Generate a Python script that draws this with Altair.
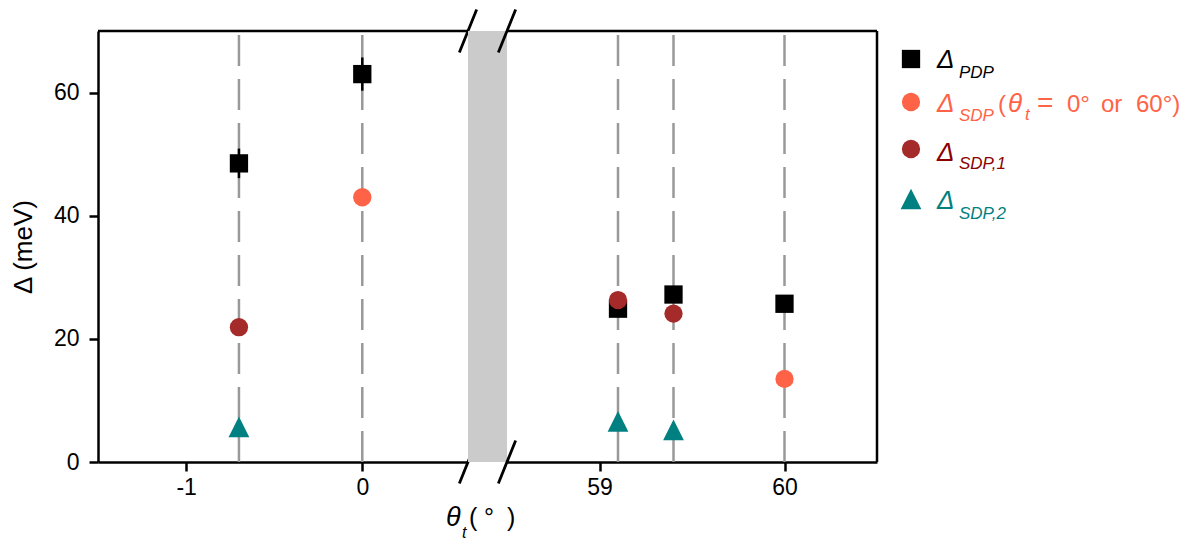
import altair as alt
import pandas as pd

FONT = "Liberation Sans"

# ---------------- data ----------------
guide_theta = [-0.7, 0.0, 59.1, 59.4, 60.0]          # dashed guide lines

pdp_theta = [-0.7, 0.0, 59.1, 59.4, 60.0]
pdp_val = [48.5, 63.0, 24.9, 27.2, 25.7]
pdp_err = [2.4, 2.7, 0.0, 0.0, 0.0]

sdp_theta = [0.0, 60.0]
sdp_val = [43.0, 13.5]

sdp1_theta = [-0.7, 59.1, 59.4]
sdp1_val = [21.9, 26.3, 24.1]

sdp2_theta = [-0.7, 59.1, 59.4]
sdp2_val = [5.7, 6.6, 5.2]

left_ticks = [-1, 0]
right_ticks = [59, 60]
y_ticks = [0, 20, 40, 60]

left_domain = [-1.5, 0.6]
right_domain = [58.5, 60.5]
y_domain = [0, 70]

C_PDP = "#000000"
C_SDP = "#ff6347"
C_SDP1 = "#a52a2a"
C_SDP1_TXT = "#8b0000"
C_SDP2 = "#008080"
C_GUIDE = "#999999"

W_PANEL = 370
W_GAP = 39
W_LEG = 303
H = 431

TRI = "M0,-1L-1,1L1,1Z"


def df_in(xs, ys, domain, extra=None):
    rows = []
    for i, (t, v) in enumerate(zip(xs, ys)):
        if domain[0] <= t <= domain[1]:
            r = {"theta": t, "val": v}
            if extra is not None:
                r["lo"] = v - extra[i]
                r["hi"] = v + extra[i]
                r["err"] = extra[i]
            rows.append(r)
    return pd.DataFrame(rows)


def panel(domain, ticks, left_side):
    xaxis = alt.Axis(values=ticks, labelExpr="'' + datum.value", title=None,
                     grid=False, labelPadding=5)
    if left_side:
        yaxis = alt.Axis(values=y_ticks, title="Δ (meV)", grid=False,
                         labelPadding=10, titlePadding=17)
    else:
        yaxis = None
    xs = alt.Scale(domain=domain, nice=False, zero=False)
    ys = alt.Scale(domain=y_domain, nice=False, zero=False)

    def X(f):
        return alt.X(f, type="quantitative", scale=xs, axis=xaxis)

    def Y(f):
        return alt.Y(f, type="quantitative", scale=ys, axis=yaxis)

    guides = pd.DataFrame({"theta": [t for t in guide_theta if domain[0] <= t <= domain[1]]})
    g = alt.Chart(guides).mark_rule(color=C_GUIDE, strokeWidth=2.5, strokeDash=[31, 13]).encode(
        x=X("theta"), y=Y("y0"), y2="y1"
    ).transform_calculate(y0=str(y_domain[0]), y1=str(y_domain[1]))

    pdp = df_in(pdp_theta, pdp_val, domain, pdp_err)
    eb = alt.Chart(pdp[pdp["err"] > 0]).mark_rule(color=C_PDP, strokeWidth=2.5).encode(
        x=X("theta"), y=Y("lo"), y2="hi")
    sq = alt.Chart(pdp).mark_point(shape="square", filled=True, size=335, opacity=1,
                                   color=C_PDP).encode(x=X("theta"), y=Y("val"))
    c0 = alt.Chart(df_in(sdp_theta, sdp_val, domain)).mark_point(
        shape="circle", filled=True, size=335, opacity=1, color=C_SDP).encode(
        x=X("theta"), y=Y("val"))
    c1 = alt.Chart(df_in(sdp1_theta, sdp1_val, domain)).mark_point(
        shape="circle", filled=True, size=335, opacity=1, color=C_SDP1).encode(
        x=X("theta"), y=Y("val"))
    tr = alt.Chart(df_in(sdp2_theta, sdp2_val, domain)).mark_point(
        shape=TRI, filled=True, size=430, opacity=1, color=C_SDP2).encode(
        x=X("theta"), y=Y("val"))

    layers = [g, eb, sq, c0, c1, tr]

    # top frame line
    top = alt.Chart(alt.Data(values=[{}])).mark_rule(color="black", strokeWidth=2.5).encode(
        y=alt.datum(y_domain[1], scale=ys, axis=yaxis))
    layers.append(top)

    # axis-break slashes
    edge = domain[1] if left_side else domain[0]
    dx = 0.048 * (domain[1] - domain[0]) / 2.05
    dy = 3.5
    brk = pd.DataFrame([
        {"x": edge - dx, "x2": edge + dx, "y": y0 - dy, "y2": y0 + dy}
        for y0 in y_domain
    ])
    sl = alt.Chart(brk).mark_rule(color="black", strokeWidth=2.8, clip=False).encode(
        x=X("x"), x2="x2", y=Y("y"), y2="y2")
    layers.append(sl)

    if not left_side:
        rb = alt.Chart(alt.Data(values=[{}])).mark_rule(color="black", strokeWidth=2.5).encode(
            x=alt.datum(domain[1], scale=xs, axis=xaxis))
        layers.append(rb)

    return alt.layer(*layers).properties(width=W_PANEL, height=H)


def txt(s, x, y, size, color="black", italic=False):
    return alt.Chart(alt.Data(values=[{}])).mark_text(
        text=s, align="left", baseline="alphabetic", font=FONT, fontSize=size,
        fontStyle="italic" if italic else "normal", color=color
    ).encode(x=alt.value(x), y=alt.value(y))


def sym(shape, x, y, size, color):
    return alt.Chart(alt.Data(values=[{}])).mark_point(
        shape=shape, filled=True, size=size, opacity=1, color=color
    ).encode(x=alt.value(x), y=alt.value(y))


left = panel(left_domain, left_ticks, True)
right = panel(right_domain, right_ticks, False)

gap = alt.layer(
    alt.Chart(alt.Data(values=[{}])).mark_rect(color="#cbcbcb").encode(
        x=alt.value(0), x2=alt.value(W_GAP), y=alt.value(0), y2=alt.value(H)),
    txt("θ", -22, 495, 27, italic=True),
    txt("t", -6, 507, 16, italic=True),
    txt("(", 1, 495, 25),
    txt("°", 16, 495, 25),
    txt(")", 39, 495, 25),
).properties(width=W_GAP, height=H)

DS, SS, MS = 26, 17, 24
legend = alt.layer(
    sym("square", 34, 28, 335, C_PDP),
    txt("Δ", 60, 37, DS, C_PDP, True),
    txt("PDP", 82, 47, SS, C_PDP, True),

    sym("circle", 34, 71, 335, C_SDP),
    txt("Δ", 60, 81, DS, C_SDP, True),
    txt("SDP", 82, 90, SS, C_SDP, True),
    txt("(", 121, 81, MS, C_SDP),
    txt("θ", 131, 81, DS, C_SDP, True),
    txt("t", 148, 89, SS, C_SDP, True),
    txt("=", 160, 81, 28, C_SDP),
    txt("0°", 190, 81, MS, C_SDP),
    txt("or", 224, 81, MS, C_SDP),
    txt("60°)", 259, 81, MS, C_SDP),

    sym("circle", 34, 118, 335, C_SDP1),
    txt("Δ", 60, 130, DS, C_SDP1_TXT, True),
    txt("SDP,1", 82, 138, SS, C_SDP1_TXT, True),

    sym(TRI, 34, 168, 430, C_SDP2),
    txt("Δ", 60, 178, DS, C_SDP2, True),
    txt("SDP,2", 82, 188, SS, C_SDP2, True),
).properties(width=W_LEG, height=H)

chart = alt.hconcat(left, gap, right, legend, spacing=0, bounds="flush").resolve_scale(
    x="independent", y="independent"
).properties(
    padding={"left": 2, "top": 0, "right": 0, "bottom": 0}
).configure_view(stroke=None).configure_axis(
    domainColor="black", domainWidth=2.5, tickColor="black", tickWidth=2.5, tickSize=9,
    labelFont=FONT, labelFontSize=23, labelColor="black",
    titleFont=FONT, titleFontSize=26, titleFontWeight="normal", titleColor="black",
    grid=False
)

chart.save("out.html", embed_options={"renderer": "svg", "actions": False})
